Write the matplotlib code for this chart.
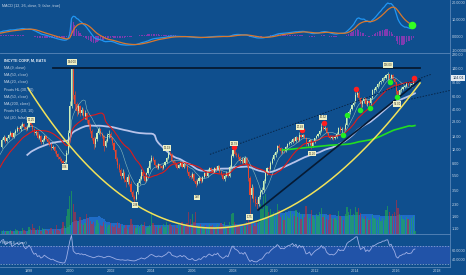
import numpy as np
import pandas as pd
import matplotlib
matplotlib.use("Agg")
import matplotlib.pyplot as plt
from matplotlib.lines import Line2D

plt.rcParams["font.family"] = ["Liberation Sans", "DejaVu Sans"]

# monthly bars, first bar is Nov 1993; the chart window starts Sep 1996
start_month = "1993-11-01"

# closes left of the window, they only feed the MAs / MACD / RSI
early_close = [
    3.2, 3.0,
    3.4, 3.1, 2.8, 2.6, 2.9, 2.5, 2.7, 3.2, 3.6, 3.4, 3.0, 3.3,
    2.8, 3.0, 3.2, 3.5, 3.8, 4.2, 4.8, 5.0, 5.5, 6.0, 6.5, 7.0,
    8.0, 9.0, 9.5, 11.0, 13.0, 12.0, 11.0, 13.0,
]

# visible bars, Sep 1996 .. Dec 2016, one row per year
close_rows = [
    [16.0, 17.5, 15.5, 17.0],
    [18.5, 20.0, 17.5, 19.5, 21.0, 23.0, 22.0, 24.5, 26.0, 23.5, 22.0, 24.0],
    [27.0, 25.5, 22.0, 19.5, 20.5, 17.0, 18.0, 15.0, 16.0, 18.0, 16.5, 15.0],
    [14.0, 12.5, 13.0, 11.5, 10.5, 9.5, 9.0, 8.5, 8.0, 8.2, 11.0, 20.0],
    [45.0, 135.0, 62.0, 48.0, 38.0, 44.0, 36.0, 40.0, 33.0, 36.0, 29.0, 25.0],
    [21.0, 17.0, 14.0, 16.5, 20.0, 22.0, 19.0, 18.0, 13.5, 15.5, 18.5, 19.0],
    [17.0, 14.5, 12.0, 9.0, 7.5, 6.5, 5.5, 6.0, 4.8, 4.5, 5.2, 4.3],
    [3.4, 2.9, 2.7, 3.3, 4.4, 5.0, 6.2, 5.4, 4.7, 5.9, 6.9, 8.6],
    [9.4, 8.7, 7.6, 6.9, 7.7, 7.4, 6.8, 7.6, 8.3, 9.2, 10.8, 10.5],
    [8.6, 8.0, 7.7, 7.0, 7.6, 8.1, 7.2, 7.9, 7.4, 6.1, 5.4, 5.3],
    [5.8, 4.7, 4.3, 4.6, 5.1, 4.6, 5.3, 5.9, 5.5, 6.3, 6.9, 6.4],
    [6.1, 6.9, 6.6, 7.3, 6.2, 5.6, 5.0, 5.4, 6.0, 5.5, 7.2, 10.0],
    [11.8, 10.6, 10.2, 9.6, 8.4, 8.8, 8.1, 9.2, 7.6, 5.1, 3.1, 3.8],
    [2.7, 2.4, 2.3, 2.9, 3.4, 3.6, 4.6, 5.9, 6.8, 6.6, 8.0, 9.1],
    [10.2, 11.1, 13.2, 12.6, 11.4, 11.9, 11.6, 12.9, 14.0, 14.6, 15.1, 16.6],
    [15.6, 17.4, 15.8, 18.6, 17.6, 18.9, 17.2, 14.1, 14.6, 15.8, 13.2, 15.0],
    [16.8, 18.2, 19.3, 20.8, 24.0, 22.3, 22.8, 19.5, 18.0, 17.0, 17.6, 16.9],
    [17.8, 19.4, 22.8, 21.6, 22.4, 22.0, 25.5, 33.0, 37.5, 40.5, 46.0, 50.6],
    [63.0, 66.5, 57.0, 47.5, 52.0, 56.5, 47.0, 52.5, 49.0, 56.0, 72.5, 73.1],
    [79.5, 86.0, 91.5, 94.0, 104.0, 104.5, 114.0, 116.0, 104.0, 112.0, 101.0, 92.0],
    [70.0, 63.0, 72.5, 75.0, 80.0, 80.5, 88.0, 83.0, 84.0, 86.0, 99.0, 104.01],
]
high_rows = [
    [16.8, 18.6, 18.0, 17.8],
    [19.4, 21.2, 20.6, 20.3, 22.0, 24.1, 23.8, 25.6, 27.4, 26.8, 24.4, 25.1],
    [29.0, 30.4, 26.2, 22.8, 21.6, 21.0, 19.2, 18.6, 16.9, 18.8, 18.6, 17.1],
    [15.8, 14.5, 13.9, 13.4, 11.9, 10.9, 10.0, 9.4, 8.9, 8.8, 11.8, 21.5],
    [52.0, 144.0, 138.0, 70.0, 51.0, 47.5, 46.0, 43.0, 41.5, 39.0, 37.5, 30.5],
    [27.0, 22.5, 18.2, 17.4, 21.3, 24.0, 22.8, 20.1, 18.6, 16.6, 19.8, 21.5],
    [20.5, 17.8, 15.1, 12.4, 9.6, 8.0, 6.9, 6.6, 6.3, 5.3, 5.8, 5.6],
    [4.6, 3.6, 3.1, 3.5, 4.6, 5.4, 6.6, 6.5, 5.6, 6.1, 7.3, 8.9],
    [10.2, 9.8, 9.0, 7.9, 8.0, 7.9, 7.6, 7.9, 8.6, 9.6, 12.2, 11.4],
    [10.8, 9.0, 8.4, 7.9, 7.9, 8.5, 8.3, 8.2, 8.1, 7.6, 6.3, 5.8],
    [6.2, 6.0, 4.9, 4.9, 5.4, 5.3, 5.5, 6.2, 6.1, 6.6, 7.2, 7.1],
    [6.7, 7.2, 7.3, 7.6, 7.5, 6.4, 5.9, 5.7, 6.3, 6.3, 7.5, 10.5],
    [13.8, 12.3, 11.2, 10.8, 9.9, 9.5, 9.3, 9.8, 9.6, 7.9, 5.4, 4.2],
    [4.0, 3.0, 2.7, 3.1, 3.6, 3.9, 4.9, 6.2, 7.2, 7.3, 8.4, 9.6],
    [11.0, 11.6, 13.9, 14.0, 12.9, 12.6, 12.3, 13.4, 14.6, 15.6, 15.8, 17.2],
    [17.3, 17.9, 17.8, 20.5, 19.2, 19.4, 19.2, 17.6, 15.4, 16.5, 16.2, 15.6],
    [17.2, 18.9, 19.8, 21.5, 26.5, 24.6, 24.2, 23.4, 20.1, 18.6, 18.1, 18.2],
    [18.9, 20.4, 23.9, 24.2, 23.6, 23.1, 26.4, 34.5, 39.2, 42.0, 47.1, 52.5],
    [68.0, 74.5, 70.0, 58.5, 53.5, 58.5, 57.5, 54.0, 53.5, 57.5, 74.0, 76.0],
    [82.0, 88.5, 94.0, 98.0, 107.0, 109.0, 118.0, 126.0, 118.0, 117.5, 116.0, 103.5],
    [93.0, 73.0, 75.0, 78.0, 82.0, 84.0, 90.0, 89.0, 88.0, 87.5, 102.0, 106.0],
]
low_rows = [
    [12.6, 15.4, 14.6, 15.0],
    [16.5, 17.9, 16.8, 16.9, 18.8, 20.4, 21.0, 21.3, 23.8, 22.6, 21.0, 21.4],
    [23.5, 24.6, 21.1, 18.7, 18.8, 16.4, 16.5, 14.2, 14.1, 15.4, 16.0, 14.3],
    [13.2, 12.0, 12.1, 11.0, 10.0, 9.1, 8.6, 8.1, 7.4, 7.2, 8.0, 10.6],
    [19.0, 42.0, 55.0, 40.0, 33.0, 35.0, 33.5, 34.0, 30.0, 30.5, 27.0, 22.5],
    [19.6, 16.2, 12.2, 12.8, 15.6, 19.1, 18.2, 16.9, 11.5, 12.9, 15.0, 17.2],
    [16.2, 13.8, 11.5, 8.6, 6.9, 6.1, 4.9, 5.1, 4.5, 3.9, 4.2, 4.0],
    [3.2, 2.7, 2.4, 2.6, 3.2, 4.2, 4.8, 5.1, 4.5, 4.6, 5.7, 6.7],
    [8.3, 8.4, 7.3, 6.6, 6.7, 7.0, 6.5, 6.6, 7.3, 8.0, 9.0, 10.1],
    [8.3, 7.7, 7.3, 6.7, 6.8, 7.4, 7.0, 7.0, 7.1, 5.9, 5.1, 4.9],
    [5.1, 4.5, 3.9, 4.1, 4.4, 4.4, 4.5, 5.1, 5.2, 5.3, 6.1, 6.2],
    [5.9, 5.9, 6.3, 6.4, 6.0, 5.4, 4.8, 4.6, 5.2, 5.2, 5.3, 7.0],
    [9.6, 10.1, 9.7, 9.1, 8.1, 8.1, 7.7, 7.9, 7.2, 4.6, 1.75, 2.8],
    [2.5, 2.2, 2.0, 2.2, 2.7, 3.2, 3.4, 4.4, 5.6, 6.1, 6.4, 7.8],
    [8.9, 9.6, 10.8, 12.0, 10.6, 10.9, 11.0, 11.3, 12.5, 13.6, 14.0, 14.8],
    [15.0, 15.3, 15.2, 15.5, 16.9, 17.3, 16.8, 13.2, 13.4, 13.9, 12.2, 12.9],
    [14.7, 16.3, 17.6, 18.7, 20.3, 21.4, 21.6, 19.0, 17.5, 16.4, 16.6, 16.2],
    [16.5, 17.2, 19.0, 20.6, 19.0, 21.0, 21.7, 25.0, 31.4, 34.8, 39.6, 44.9],
    [49.0, 59.0, 52.0, 40.5, 43.5, 49.5, 46.0, 44.5, 42.5, 44.0, 55.0, 66.0],
    [70.0, 76.5, 81.0, 86.0, 92.0, 99.0, 102.0, 98.0, 92.0, 101.0, 98.0, 88.0],
    [64.0, 55.0, 62.0, 69.0, 73.0, 76.5, 78.0, 80.5, 79.0, 78.0, 84.0, 97.0],
]
# volume in millions of shares
volume_rows = [
    [3, 4, 2, 3],
    [3, 4, 3, 2, 5, 4, 3, 3, 6, 4, 3, 2],
    [7, 5, 10, 6, 4, 5, 8, 3, 6, 5, 4, 3],
    [4, 6, 3, 5, 9, 4, 3, 6, 12, 8, 18, 25],
    [38, 43, 30, 22, 14, 12, 17, 10, 9, 11, 20, 16],
    [13, 10, 12, 8, 14, 11, 9, 8, 12, 10, 7, 9],
    [11, 8, 7, 9, 12, 6, 10, 8, 6, 9, 5, 7],
    [15, 10, 8, 6, 9, 7, 10, 8, 12, 6, 7, 9],
    [22, 11, 8, 7, 9, 6, 8, 10, 7, 12, 9, 10],
    [8, 7, 9, 6, 10, 8, 12, 9, 7, 11, 22, 15],
    [20, 12, 22, 9, 7, 10, 8, 6, 9, 7, 10, 8],
    [9, 7, 6, 10, 8, 11, 9, 12, 8, 7, 12, 20],
    [21, 12, 10, 8, 9, 7, 10, 8, 12, 14, 11, 9],
    [10, 8, 12, 14, 30, 25, 38, 40, 28, 22, 25, 20],
    [22, 18, 30, 24, 17, 19, 14, 21, 18, 16, 23, 20],
    [18, 24, 17, 22, 15, 20, 17, 28, 20, 16, 24, 18],
    [15, 20, 18, 22, 26, 17, 19, 15, 14, 20, 16, 15],
    [16, 14, 23, 18, 17, 14, 20, 27, 22, 25, 18, 20],
    [27, 22, 26, 21, 17, 15, 18, 16, 14, 15, 19, 16],
    [15, 14, 17, 13, 16, 14, 24, 28, 22, 18, 20, 22],
    [34, 26, 20, 18, 15, 14, 17, 15, 14, 16, 18, 3],
]

# pivot markers and labels
piv_high_year = [2008.05, 2011.38, 2012.46, 2014.03, 2016.87]
piv_high_price = [13.0, 21.7, 26.7, 74.5, 103.7]
piv_low_year = [2013.39, 2013.59, 2014.23, 2014.72, 2015.70, 2016.04]
piv_low_price = [18.7, 34.0, 39.6, 42.1, 91.8, 58.5]
label_text = ["144.00", "30.25", "7.06", "2.38", "12.19", "3.87", "13.79",
              "1.75", "20.48", "26.52", "12.20", "126.00", "55.00"]
label_year = [2000.11, 1998.10, 1999.76, 2003.20, 2004.76, 2006.24, 2008.05,
              2008.83, 2011.28, 2012.41, 2011.87, 2015.60, 2016.04]
label_price = [167.7, 29.1, 7.1, 2.27, 12.6, 2.84, 14.3,
               1.58, 23.6, 31.6, 10.6, 152.9, 47.4]

# drawings
top_line_year = [1999.18, 2017.17]
top_line_price = [138.2, 138.2]
trend_year = [2009.23, 2017.17]
trend_price = [1.95, 97.3]
chan_year = [2006.87, 2017.75]
chan_price = [10.4, 116.8]
chan2_year = [2016.04, 2018.78]
chan2_price = [50.1, 72.7]
cup_year = [1997.95, 2006.68, 2017.17]      # start, control, end of the curve
cup_price = [76.8, 0.0155, 89.2]
macd_dot = (2016.77, 6.6)
last_price = 104.01

BG = "#0f4f8e"
TXT = "#c9d6e6"
GRID = "#5a86b8"
UP = "#cdefb8"
DN = "#e8452c"
FS = 2.7

close = np.array(early_close + sum(close_rows, []), float)
high = np.array(sum(high_rows, []), float)
low = np.array(sum(low_rows, []), float)
vol = np.array(sum(volume_rows, []), float)
n0 = len(early_close)

dates = pd.date_range(start_month, periods=len(close), freq="MS")
t = np.asarray(dates.year + (dates.month - 1) / 12.0, float)

s = pd.Series(close)
ma9 = s.rolling(9).mean()
ma20 = s.rolling(20).mean()
ma50 = s.rolling(50).mean()
ma200 = s.rolling(200).mean()
macd = s.ewm(span=12, adjust=False).mean() - s.ewm(span=26, adjust=False).mean()
signal = macd.ewm(span=9, adjust=False).mean()
hist = macd - signal
d = s.diff()
gain = d.clip(lower=0).ewm(alpha=1 / 14, adjust=False).mean()
loss = (-d.clip(upper=0)).ewm(alpha=1 / 14, adjust=False).mean()
rsi = 100 - 100 / (1 + gain / loss)

tv = t[n0:]
cv = close[n0:]
ov = np.r_[close[n0 - 1], cv[:-1]]
up = cv >= ov
high = np.maximum(high, np.maximum(ov, cv))
low = np.minimum(low, np.minimum(ov, cv))

XMIN, XMAX = 1996.578, 2018.637
W = 450 / 466


def rect(top, bottom):
    return [0, 1 - bottom / 275, W, (bottom - top) / 275]


fig = plt.figure(figsize=(4.66, 2.75), dpi=100)
fig.patch.set_facecolor(BG)
ax_macd = fig.add_axes(rect(0, 53))
ax_vol = fig.add_axes(rect(53, 234))
ax_main = fig.add_axes(rect(53, 234))
ax_rsi = fig.add_axes(rect(234, 267))
ax_vol.set_zorder(1)
ax_main.set_zorder(2)
ax_main.patch.set_visible(False)

for ax in (ax_macd, ax_vol, ax_main, ax_rsi):
    ax.set_facecolor(BG)
    ax.set_xlim(XMIN, XMAX)
    for sp in ax.spines.values():
        sp.set_visible(False)
    ax.tick_params(length=0, labelsize=FS, colors=TXT, pad=1.5)
    ax.set_xticks([])

# volume: MA area behind, translucent bars on top of it
ax_vol.set_ylim(0, 181)
ax_vol.set_yticks([])
vol_ma = pd.Series(vol).rolling(20, min_periods=1).mean()
ax_vol.fill_between(tv, 0, vol_ma, step="mid", color="#2272d2", alpha=0.85, lw=0)
ax_vol.bar(tv, vol, width=0.065, color=np.where(up, "#22b04a", "#c42c3c"), alpha=0.6, lw=0)

# price
ax_main.set_yscale("log")
ax_main.set_ylim(0.946, 220)
col = np.where(up, UP, DN)
ax_main.vlines(tv, low, high, colors=col, lw=0.45, zorder=4)
lo_b = np.minimum(ov, cv)
hi_b = np.maximum(np.maximum(ov, cv), lo_b * 1.015)
ax_main.bar(tv, hi_b - lo_b, bottom=lo_b, width=0.055, color=col, lw=0, zorder=5)

ax_main.plot(t, ma50, color="#b7c3ea", lw=1.3, zorder=3)
ax_main.plot(t, ma200, color="#22dd22", lw=1.2, zorder=6)
ax_main.plot(t, ma20, color="#e01a1a", lw=0.8, zorder=6)
ax_main.plot(t, ma9, color="#a9d6c8", lw=0.4, alpha=0.8, zorder=6)

ax_main.plot(top_line_year, top_line_price, color="#061a33", lw=1.3, zorder=7)
ax_main.plot(trend_year, trend_price, color="#061a33", lw=1.2, zorder=7)
ax_main.plot(chan_year, chan_price, color="#082648", lw=0.7, ls=(0, (1.5, 1.5)), zorder=7)
ax_main.plot(chan2_year, chan2_price, color="#082648", lw=0.7, ls=(0, (1.5, 1.5)), zorder=7)

u = np.linspace(0, 1, 300)
lp = np.log10(cup_price)
cx = (1 - u) ** 2 * cup_year[0] + 2 * u * (1 - u) * cup_year[1] + u ** 2 * cup_year[2]
cy = 10 ** ((1 - u) ** 2 * lp[0] + 2 * u * (1 - u) * lp[1] + u ** 2 * lp[2])
ax_main.plot(cx, cy, color="#f2e25a", lw=1.1, zorder=7)

ax_main.scatter(piv_high_year, piv_high_price, s=16, color="#ff1f1f", lw=0, zorder=8)
ax_main.scatter(piv_low_year, piv_low_price, s=16, color="#22f022", lw=0, zorder=8)
for txt, x, y in zip(label_text, label_year, label_price):
    ax_main.text(x, y, txt, fontsize=2.0, color="#2a2a2a", ha="center", va="center", zorder=9,
                 bbox=dict(boxstyle="square,pad=0.25", fc="#eef0c6", ec="none"))

price_ticks = [220, 140, 90, 60, 40, 28, 18, 12, 8, 5.5, 3.5, 2.3, 1.6, 1.1]
ax_main.yaxis.tick_right()
ax_main.yaxis.set_minor_locator(matplotlib.ticker.NullLocator())
ax_main.set_yticks(price_ticks)
ax_main.set_yticklabels(["%.2f" % p for p in price_ticks])
ax_main.get_yticklabels()[0].set_va("top")
ax_main.annotate("%.2f" % last_price, xy=(1.0, last_price), xycoords=("axes fraction", "data"),
                 xytext=(1.6, 0), textcoords="offset points", ha="left", va="center",
                 fontsize=FS, color="#10304f", annotation_clip=False,
                 bbox=dict(boxstyle="square,pad=0.2", fc="#e6ecf3", ec="none"))

legend_lines = ["MA (9, close)", "MA (50, close)", "MA (20, close)", "Pivots HL (30, 30)",
                "MA (50, close)", "MA (200, close)", "Pivots HL (10, 10)", "Vol (20, false)"]
fig.text(4 / 466, 1 - 60 / 275, "INCYTE CORP, M, BATS", fontsize=FS, color="#e4ecf5",
         fontweight="bold", va="center")
for i, name in enumerate(legend_lines):
    fig.text(4 / 466, 1 - (68 + 7.2 * i) / 275, name, fontsize=FS, color=TXT, va="center")

# MACD
ax_macd.set_ylim(-10.2, 21.6)
ax_macd.bar(t, hist, width=0.05, color="#7e3cb0", lw=0)
ax_macd.plot(t, macd, color="#2196f3", lw=0.9)
ax_macd.plot(t, signal, color="#d8782e", lw=0.9)
ax_macd.scatter([macd_dot[0]], [macd_dot[1]], s=30, color="#33ff22", lw=0, zorder=5)
ax_macd.yaxis.tick_right()
ax_macd.set_yticks([20, 10, 0, -10])
ax_macd.set_yticklabels(["20.0000", "10.0000", "0.0000", "-10.0000"])
ax_macd.get_yticklabels()[-1].set_va("bottom")
fig.text(2 / 466, 1 - 6 / 275, "MACD (12, 26, close, 9, false, true)", fontsize=FS,
         color=TXT, va="center")

# RSI
ax_rsi.set_ylim(23.3, 96.7)
ax_rsi.axhspan(30, 70, color="#2a55b4", alpha=0.7, lw=0)
for lvl in (70, 30):
    ax_rsi.axhline(lvl, color="#9db3dc", lw=0.5, ls=(0, (2, 2)))
ax_rsi.plot(t, rsi, color="#9fb0e6", lw=0.6)
ax_rsi.yaxis.tick_right()
ax_rsi.set_yticks([60, 40])
ax_rsi.set_yticklabels(["60.0000", "40.0000"])
years = list(range(1998, 2019, 2))
ax_rsi.set_xticks(years)
ax_rsi.set_xticklabels([str(y) for y in years])
fig.text(2 / 466, 1 - 242.7 / 275, "RSI (14, close)", fontsize=FS, color=TXT, va="center")

for ypx in (53, 234, 267):
    fig.add_artist(Line2D([0, W], [1 - ypx / 275] * 2, color=GRID, lw=0.6))
fig.add_artist(Line2D([W, W], [1 - 267 / 275, 1], color=GRID, lw=0.6))

fig.savefig("out.png", dpi=100, facecolor=BG)
